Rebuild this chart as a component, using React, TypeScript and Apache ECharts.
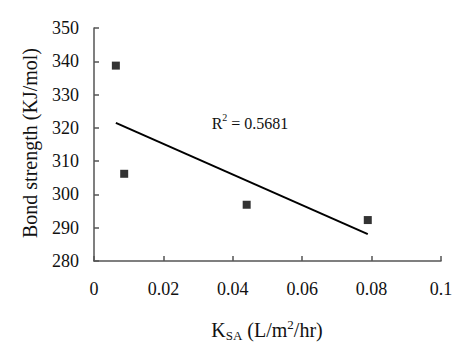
import React, { useEffect, useRef } from "react";
import * as echarts from "echarts";

const ksa = [0.0063, 0.0087, 0.044, 0.0789];
const bondStrength = [338.7, 306.2, 296.9, 292.3];
const xTicks = [0, 0.02, 0.04, 0.06, 0.08, 0.1];
const yTicks = [280, 290, 300, 310, 320, 330, 340, 350];
const r2Label = "0.5681";

const FAMILY = "Liberation Serif";

function regression(xs: number[], ys: number[]) {
  const n = xs.length;
  const mx = xs.reduce((a, b) => a + b, 0) / n;
  const my = ys.reduce((a, b) => a + b, 0) / n;
  let sxy = 0;
  let sxx = 0;
  for (let i = 0; i < n; i++) {
    sxy += (xs[i] - mx) * (ys[i] - my);
    sxx += (xs[i] - mx) * (xs[i] - mx);
  }
  const slope = sxy / sxx;
  return { slope, intercept: my - slope * mx };
}

export default function App() {
  const ref = useRef<HTMLDivElement>(null);
  useEffect(() => {
    if (!ref.current) return;
    const chart = echarts.init(ref.current, null, { renderer: "svg" });
    const { slope, intercept } = regression(ksa, bondStrength);
    const xMin = Math.min(...ksa);
    const xMax = Math.max(...ksa);
    const trend = [
      [xMin, intercept + slope * xMin],
      [xMax, intercept + slope * xMax],
    ];
    const axisColor = "#555";
    chart.setOption({
      animation: false,
      backgroundColor: "#fff",
      textStyle: { fontFamily: FAMILY },
      grid: { left: 94, top: 28, right: 33, bottom: 100, containLabel: false },
      xAxis: {
        type: "value",
        min: xTicks[0],
        max: xTicks[xTicks.length - 1],
        interval: 0.02,
        axisLine: { show: true, lineStyle: { color: axisColor, width: 1.5 } },
        axisTick: { show: true, inside: true, length: 5, lineStyle: { color: axisColor, width: 1.5 } },
        splitLine: { show: false },
        axisLabel: {
          margin: 19,
          color: "#111",
          fontFamily: FAMILY,
          fontSize: 18,
          formatter: (v: number) => String(parseFloat(v.toFixed(2))),
        },
      },
      yAxis: {
        type: "value",
        min: yTicks[0],
        max: yTicks[yTicks.length - 1],
        interval: 10,
        axisLine: { show: true, lineStyle: { color: axisColor, width: 1.5 } },
        axisTick: { show: true, inside: true, length: 5, lineStyle: { color: axisColor, width: 1.5 } },
        splitLine: { show: false },
        axisLabel: {
          margin: 15,
          color: "#111",
          fontFamily: FAMILY,
          fontSize: 18,
        },
      },
      series: [
        {
          type: "scatter",
          data: ksa.map((x, i) => [x, bondStrength[i]]),
          symbol: "rect",
          symbolSize: 8,
          itemStyle: { color: "#000" },
          z: 3,
        },
        {
          type: "line",
          data: trend,
          symbol: "none",
          lineStyle: { color: "#000", width: 2 },
          z: 2,
        },
      ],
      graphic: [
        {
          type: "text",
          x: 30,
          y: 143,
          rotation: Math.PI / 2,
          style: {
            text: "Bond strength (KJ/mol)",
            fontFamily: FAMILY,
            fontSize: 20,
            fill: "#111",
            align: "center",
            verticalAlign: "middle",
          },
        },
        {
          type: "text",
          x: 267,
          y: 328,
          style: {
            text: "{a|K}{sub|SA}{a| (L/m}{sup|2}{a|/hr)}",
            align: "center",
            verticalAlign: "middle",
            fill: "#111",
            rich: {
              a: { fontFamily: FAMILY, fontSize: 20, fill: "#111", lineHeight: 24, verticalAlign: "bottom" },
              sub: { fontFamily: FAMILY, fontSize: 13, fill: "#111", lineHeight: 24, verticalAlign: "bottom", padding: [0, 0, -2, 0] },
              sup: { fontFamily: FAMILY, fontSize: 13, fill: "#111", lineHeight: 24, verticalAlign: "top", padding: [2, 0, 0, 0] },
            },
          },
        },
        {
          type: "text",
          x: 250,
          y: 121,
          style: {
            text: `{a|R}{sup|2}{a| = ${r2Label}}`,
            align: "center",
            verticalAlign: "middle",
            fill: "#111",
            rich: {
              a: { fontFamily: FAMILY, fontSize: 16, fill: "#111", lineHeight: 20, verticalAlign: "bottom" },
              sup: { fontFamily: FAMILY, fontSize: 10, fill: "#111", lineHeight: 20, verticalAlign: "top", padding: [1, 0, 0, 0] },
            },
          },
        },
      ],
    });
    return () => chart.dispose();
  }, []);
  return <div ref={ref} style={{ width: 474, height: 361, position: "absolute", left: 0, top: 0 }} />;
}
